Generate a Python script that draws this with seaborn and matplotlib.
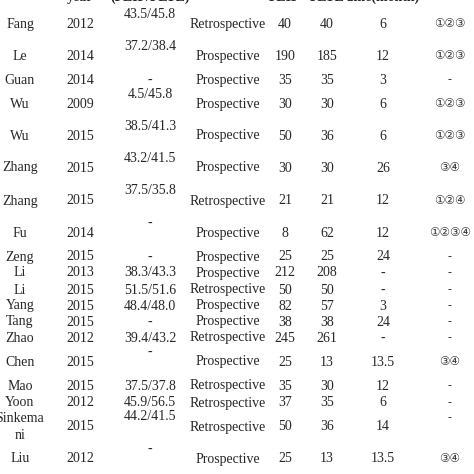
import matplotlib
matplotlib.use("Agg")
import matplotlib.pyplot as plt
import seaborn as sns

authors = ["Fang", "Le", "Guan", "Wu", "Wu", "Zhang", "Zhang", "Fu", "Zeng", "Li", "Li",
           "Yang", "Tang", "Zhao", "Chen", "Mao", "Yoon", "Sinkema\nni", "Liu"]
years = ["2012", "2014", "2014", "2009", "2015", "2015", "2015", "2014", "2015", "2013", "2015",
         "2015", "2015", "2012", "2015", "2015", "2012", "2015", "2012"]
ages = ["43.5/45.8", "37.2/38.4", "-", "4.5/45.8", "38.5/41.3", "43.2/41.5", "37.5/35.8", "-", "-",
        "38.3/43.3", "51.5/51.6", "48.4/48.0", "-", "39.4/43.2", "-", "37.5/37.8", "45.9/56.5",
        "44.2/41.5", "-"]
designs = ["Retrospective", "Prospective", "Prospective", "Prospective", "Prospective", "Prospective",
           "Retrospective", "Prospective", "Prospective", "Prospective", "Retrospective", "Prospective",
           "Prospective", "Retrospective", "Prospective", "Retrospective", "Retrospective",
           "Retrospective", "Prospective"]
plif = ["40", "190", "35", "30", "50", "30", "21", "8", "25", "212", "50", "82", "38", "245", "25",
        "35", "37", "50", "25"]
pltl = ["40", "185", "35", "30", "36", "30", "21", "62", "25", "208", "50", "57", "38", "261", "13",
        "30", "35", "36", "13"]
followup = ["6", "12", "3", "6", "6", "26", "12", "12", "24", "-", "-", "3", "24", "-", "13.5", "12",
            "6", "14", "13.5"]
outcomes = ["①②③", "①②③", "-", "①②③", "①②③", "③④", "①②④", "①②③④", "-", "-", "-", "-", "-",
            "-", "③④", "-", "-", "-", "③④"]
headers = ["year", "(PLIF/PLTL)", "", "PLIF", "PLTL", "time(month)", ""]

# layout (pixels)
row_y = [24, 56, 80, 104, 136, 168, 201, 233, 257, 273, 290, 306, 322, 338, 362, 386, 403, 427, 459]
age_up = [1, 1, 0, 1, 1, 1, 1, 1, 0, 0, 0, 0, 0, 0, 1, 0, 0, 1, 1]
col_x = [20, 80, 150, 228, 285, 327, 383, 450]

sns.set_style("white")
plt.rcParams["font.family"] = ["Liberation Serif", "DejaVu Sans"]

fig = plt.figure(figsize=(4.74, 4.74), dpi=100)
ax = fig.add_axes([0, 0, 1, 1])
ax.set_xlim(0, 474)
ax.set_ylim(474, 0)
ax.axis("off")

fs = 10
for i, x in enumerate(col_x[1:]):
    ax.text(x, -3, headers[i], ha="center", va="center", fontsize=fs, fontweight="bold", clip_on=False)

for i, y in enumerate(row_y):
    ax.text(col_x[0], y, authors[i], ha="center", va="center", fontsize=fs, linespacing=1.4)
    ax.text(col_x[1], y, years[i], ha="center", va="center", fontsize=fs)
    ax.text(col_x[2], y - 10 * age_up[i], ages[i], ha="center", va="center", fontsize=fs)
    ax.text(col_x[3], y, designs[i], ha="center", va="center", fontsize=fs)
    ax.text(col_x[4], y, plif[i], ha="center", va="center", fontsize=fs)
    ax.text(col_x[5], y, pltl[i], ha="center", va="center", fontsize=fs)
    ax.text(col_x[6], y, followup[i], ha="center", va="center", fontsize=fs)
    oy = y - 9 if authors[i].startswith("Sinkema") else y
    ax.text(col_x[7], oy, outcomes[i], ha="center", va="center", fontsize=8.5, color="#333333")

fig.savefig("out.png", dpi=100)
